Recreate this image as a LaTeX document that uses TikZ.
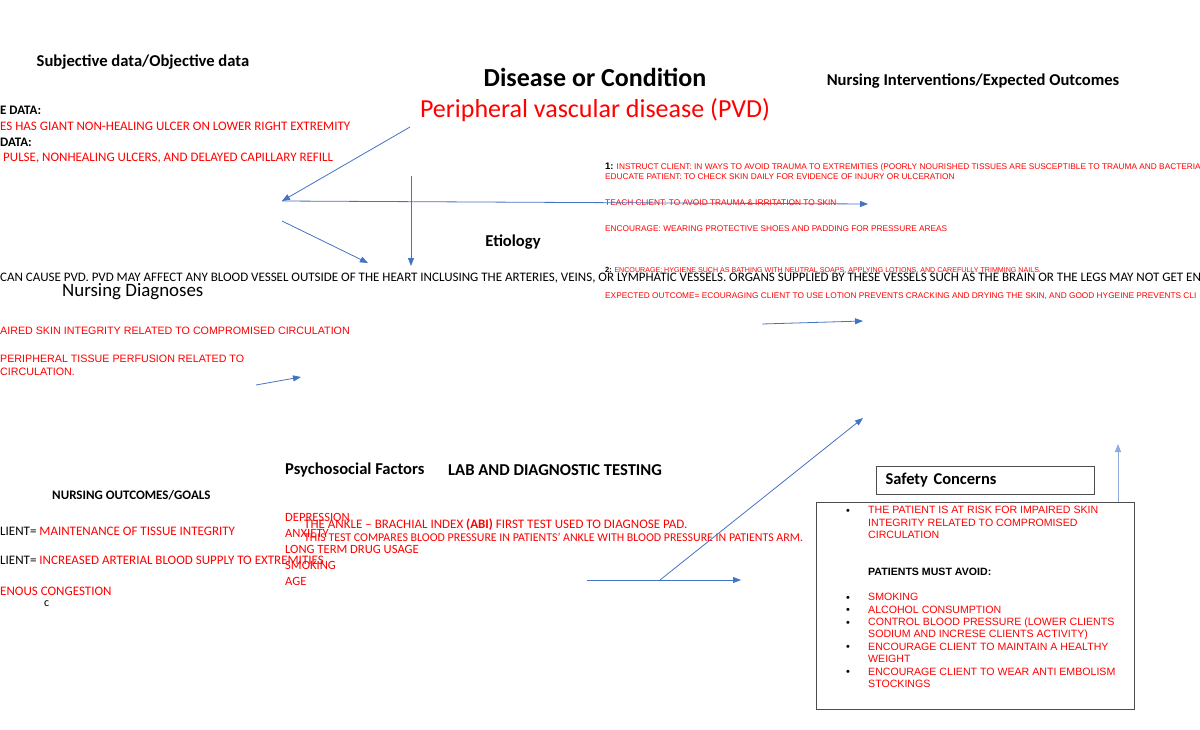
\documentclass[tikz,border=0pt]{standalone}
\usepackage{fontspec}
\setmainfont{Carlito}
\newfontfamily\arialfont{Liberation Sans}
\usetikzlibrary{positioning,arrows.meta}
\definecolor{pvdred}{HTML}{FF0000}
\definecolor{arrblue}{HTML}{4472C4}
\newcommand{\fs}[1]{\fontsize{#1}{1.2\dimexpr#1pt\relax}\selectfont}

\begin{document}
\begin{tikzpicture}[
        x=1pt, y=-1pt,
        lbl/.style={anchor=west, inner sep=0pt, align=left},
        head/.style={inner sep=0pt, font=\bfseries\fs{16.6}},
        redcal/.style={lbl, text=pvdred, font=\fs{13}},
        redari/.style={lbl, text=pvdred, font=\arialfont\fs{10.7}},
        tiny/.style={lbl, text=pvdred, font=\arialfont\fs{8.3}},
        boxtxt/.style={anchor=north west, inner sep=0pt, align=left, text=pvdred, font=\arialfont\fontsize{10.6}{12.4}\selectfont},
        arrow/.style={-{Triangle[length=8pt,width=6pt]}, draw=arrblue, line width=0.8pt}
    ]
        \useasboundingbox (0,0) rectangle (1200,729);
        \clip (0,0) rectangle (1200,729);

        % Subjective / objective data
        \node[head] (subj) at (143,62) {Subjective data/Objective data};
        \node[lbl, font=\bfseries\fs{13}] (subjlbl) at (0,110) {E DATA:};
        \node[redcal] (subjtxt) at (0,126) {ES HAS GIANT NON-HEALING ULCER ON LOWER RIGHT EXTREMITY};
        \node[lbl, font=\bfseries\fs{13}] (objlbl) at (0,142) {DATA:};
        \node[redcal] (objtxt) at (3,158) {PULSE, NONHEALING ULCERS, AND DELAYED CAPILLARY REFILL};

        % Disease or condition
        \node[inner sep=0pt, font=\bfseries\fs{26}] (disease) at (595,77) {Disease or Condition};
        \node[inner sep=0pt, text=pvdred, font=\fs{26}] (pvd) at (595,110) {Peripheral vascular disease (PVD)};

        % Nursing interventions
        \node[head] (interv) at (973,81) {Nursing Interventions/Expected Outcomes};
        \node[tiny] (int1) at (605,167) {{\color{black}\bfseries\fs{9.5}1:} INSTRUCT CLIENT: IN WAYS TO AVOID TRAUMA TO EXTREMITIES (POORLY NOURISHED TISSUES ARE SUSCEPTIBLE TO TRAUMA AND BACTERIAL};
        \node[tiny] (int2) at (605,177) {EDUCATE PATIENT: TO CHECK SKIN DAILY FOR EVIDENCE OF INJURY OR ULCERATION};
        \node[tiny] (int3) at (605,203) {TEACH CLIENT: TO AVOID TRAUMA \& IRRITATION TO SKIN};
        \node[tiny] (int4) at (605,229) {ENCOURAGE: WEARING PROTECTIVE SHOES AND PADDING FOR PRESSURE AREAS};
        \node[tiny, font=\arialfont\fs{7.1}] (int5) at (605,270) {{\color{black}\bfseries\fs{7.5}2:} ENCOURAGE: HYGIENE SUCH AS BATHING WITH NEUTRAL SOAPS, APPLYING LOTIONS, AND CAREFULLY TRIMMING NAILS.};
        \node[tiny] (int6) at (605,296) {EXPECTED OUTCOME= ECOURAGING CLIENT TO USE LOTION PREVENTS CRACKING AND DRYING THE SKIN, AND GOOD HYGEINE PREVENTS CLI};

        % Etiology
        \node[head] (etio) at (513,242) {Etiology};
        \node[lbl, font=\fs{13}] (etiotxt) at (0,278) {CAN CAUSE PVD. PVD MAY AFFECT ANY BLOOD VESSEL OUTSIDE OF THE HEART INCLUSING THE ARTERIES, VEINS, OR LYMPHATIC VESSELS. ORGANS SUPPLIED BY THESE VESSELS SUCH AS THE BRAIN OR THE LEGS MAY NOT GET EN};

        % Nursing diagnoses
        \node[lbl, font=\fs{18.9}] (diag) at (62,292) {Nursing Diagnoses};
        \node[redari] (diag1) at (0,331) {AIRED SKIN INTEGRITY RELATED TO COMPROMISED CIRCULATION};
        \node[lbl, text=pvdred, font=\arialfont\fontsize{10.7}{13}\selectfont] (diag2) at (0,365) {PERIPHERAL TISSUE PERFUSION RELATED TO\\CIRCULATION.};

        % Psychosocial factors and lab testing
        \node[lbl, font=\bfseries\fs{16.6}] (psycho) at (285,470) {Psychosocial Factors};
        \node[lbl, font=\bfseries\fs{16.6}] (lab) at (448,470) {LAB AND DIAGNOSTIC TESTING};
        \node[lbl, text=pvdred, font=\fontsize{12.6}{16}\selectfont] (psylist) at (285,549) {DEPRESSION\\ANXIETY\\LONG TERM DRUG USAGE\\SMOKING\\AGE};
        \node[lbl, text=pvdred, font=\fs{13}] (abi) at (304,525) {THE ANKLE -- BRACHIAL INDEX \textbf{(ABI)} FIRST TEST USED TO DIAGNOSE PAD.};
        \node[lbl, text=pvdred, font=\fs{11.9}] (abi2) at (304,537) {THIS TEST COMPARES BLOOD PRESSURE IN PATIENTS' ANKLE WITH BLOOD PRESSURE IN PATIENTS ARM.};

        % Nursing outcomes / goals
        \node[lbl, font=\bfseries\fs{13}] (goals) at (52,495) {NURSING OUTCOMES/GOALS};
        \node[lbl, font=\fs{13}] (goal1) at (0,531) {LIENT= \textcolor{pvdred}{MAINTENANCE OF TISSUE INTEGRITY}};
        \node[lbl, font=\fs{13}] (goal2) at (0,560) {LIENT= \textcolor{pvdred}{INCREASED ARTERIAL BLOOD SUPPLY TO EXTREMITIES}};
        \node[redcal] (goal3) at (0,591) {ENOUS CONGESTION};
        \node[lbl, font=\fs{12}] (goalc) at (44,604) {c};

        % Safety concerns
        \node[draw=black!70, line width=1pt, anchor=north west, minimum width=218pt, minimum height=28pt, inner xsep=9pt, text width=200pt, align=left, font=\bfseries\fs{16.5}] (safehead) at (876,466) {Safety Concerns};
        \node[draw=black!70, line width=1pt, anchor=north west, minimum width=318pt, minimum height=207pt] (safebox) at (816,502) {};
        \node[boxtxt] (risk) at (868,506) {THE PATIENT IS AT RISK FOR IMPAIRED SKIN\\INTEGRITY RELATED TO COMPROMISED\\CIRCULATION};
        \node[boxtxt, text=black, font=\arialfont\bfseries\fs{10.6}] (avoid) at (868,568) {PATIENTS MUST AVOID:};
        \node[boxtxt] (avlist) at (868,593) {SMOKING\\ALCOHOL CONSUMPTION\\CONTROL BLOOD PRESSURE (LOWER CLIENTS\\SODIUM AND INCRESE CLIENTS ACTIVITY)\\ENCOURAGE CLIENT TO MAINTAIN A HEALTHY\\WEIGHT\\ENCOURAGE CLIENT TO WEAR ANTI EMBOLISM\\STOCKINGS};
        \foreach \by in {512,599,611,624,648,673}
            \node[inner sep=0pt, font=\arialfont\fs{11}, name=bul-\by] at (848,\by) {\textbullet};

        % Arrows
        \coordinate (a1s) at (410,127);
        \coordinate (hub) at (282,201);
        \coordinate (a2e) at (868,204);
        \coordinate (a3s) at (282,221);
        \coordinate (a3e) at (368,263);
        \coordinate (a4s) at (411,176);
        \coordinate (a4e) at (411,266);
        \coordinate (a5s) at (256,385);
        \coordinate (a5e) at (301,377);
        \coordinate (a6s) at (762,324);
        \coordinate (a6e) at (863,321);
        \coordinate (a7s) at (587,580);
        \coordinate (a7m) at (660,580);
        \coordinate (a7e) at (741,580);
        \coordinate (a8e) at (863,418);
        \coordinate (a9s) at (1118,502);
        \coordinate (a9e) at (1118,444);

        \draw[arrow] (a1s) -- (hub);
        \draw[arrow] (hub) -- (a2e);
        \draw[arrow] (a3s) -- (a3e);
        \draw[arrow] (a4s) -- (a4e);
        \draw[arrow] (a5s) -- (a5e);
        \draw[arrow] (a6s) -- (a6e);
        \draw[arrow] (a7s) -- (a7e);
        \draw[arrow] (a7m) -- (a8e);
        \draw[arrow, draw=arrblue!60] (a9s) -- (a9e);
    \end{tikzpicture}
\end{document}
